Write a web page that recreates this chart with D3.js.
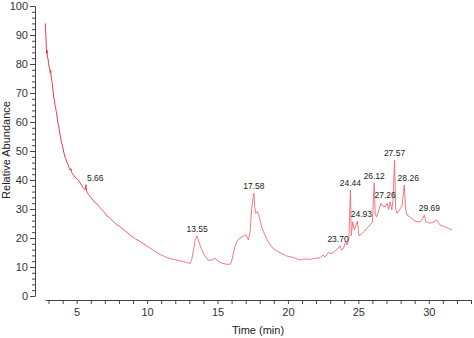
<!DOCTYPE html>
<html>
<head>
<meta charset="utf-8">
<script src="https://cdn.jsdelivr.net/npm/d3@7/dist/d3.min.js"></script>
<style>
  html, body { margin: 0; padding: 0; background: #fff; }
  svg { display: block; }
  text { font-family: "Liberation Sans", Arial, sans-serif; }
</style>
</head>
<body>
<svg id="chart" width="474" height="338"></svg>
<script>
// Chromatogram trace: retention time (min) and relative abundance (%)
const traceTime = [
  2.77, 2.79, 2.81, 2.83, 2.85, 2.87, 2.89, 2.92, 2.96, 3.00, 3.04, 3.08, 3.12, 3.15, 3.19, 3.23,
  3.26, 3.30, 3.34, 3.37, 3.41, 3.45, 3.50, 3.55, 3.60, 3.64, 3.68, 3.72, 3.77, 3.82, 3.87, 3.92,
  3.97, 4.03, 4.09, 4.15, 4.22, 4.30, 4.38, 4.46, 4.53, 4.60, 4.65, 4.72, 4.80, 4.88, 4.96, 5.04,
  5.12, 5.20, 5.28, 5.36, 5.44, 5.52, 5.59, 5.66, 5.70, 5.76, 5.85, 5.95, 6.05, 6.15, 6.25, 6.35,
  6.45, 6.55, 6.65, 6.78, 6.90, 7.02, 7.15, 7.25, 7.40, 7.55, 7.70, 7.85, 8.00, 8.08, 8.30, 8.50,
  8.79, 9.10, 9.50, 9.90, 10.20, 10.44, 10.70, 10.92, 11.30, 11.63, 12.00, 12.46, 12.80, 13.05, 13.17, 13.30,
  13.42, 13.55, 13.68, 13.88, 14.10, 14.35, 14.60, 14.83, 15.05, 15.30, 15.60, 15.89, 16.00, 16.13, 16.25, 16.37,
  16.55, 16.73, 16.90, 17.03, 17.19, 17.31, 17.42, 17.58, 17.65, 17.72, 17.83, 17.95, 18.10, 18.26, 18.50, 18.74,
  19.00, 19.25, 19.45, 19.90, 20.39, 20.87, 21.20, 21.58, 21.90, 22.29, 22.50, 22.65, 22.88, 23.00, 23.20, 23.40,
  23.55, 23.70, 23.80, 23.94, 24.10, 24.20, 24.33, 24.44, 24.50, 24.60, 24.72, 24.93, 25.05, 25.20, 25.40, 25.60,
  25.84, 26.00, 26.12, 26.20, 26.30, 26.50, 26.60, 26.75, 26.91, 27.05, 27.15, 27.26, 27.38, 27.46, 27.57, 27.65,
  27.75, 27.92, 28.10, 28.26, 28.35, 28.45, 28.68, 28.90, 29.16, 29.40, 29.55, 29.69, 29.80, 30.05, 30.30, 30.55,
  30.80, 31.10, 31.40, 31.65
];
const traceAbundance = [
  94.0, 91.5, 89.8, 87.5, 85.0, 83.6, 84.8, 82.4, 82.0, 80.2, 79.0, 78.6, 77.0, 77.8, 75.4, 74.3,
  73.6, 71.5, 70.2, 68.4, 67.8, 66.1, 65.0, 63.6, 62.4, 60.2, 59.4, 58.6, 57.1, 55.5, 54.2, 53.0,
  52.2, 50.8, 49.5, 48.3, 47.4, 46.2, 45.5, 44.2, 43.4, 43.9, 42.6, 42.0, 41.6, 41.0, 40.7, 40.2,
  39.8, 39.5, 38.6, 38.2, 37.4, 37.0, 36.6, 38.4, 36.2, 35.6, 35.0, 34.3, 33.8, 33.0, 32.6, 32.0,
  31.6, 31.2, 30.5, 29.8, 29.2, 28.5, 27.6, 27.3, 26.6, 26.0, 25.2, 24.6, 24.2, 23.9, 23.0, 22.2,
  21.0, 19.9, 18.8, 17.5, 16.6, 15.8, 15.0, 14.3, 13.5, 12.9, 12.5, 12.0, 11.6, 11.2, 12.6, 16.0,
  19.5, 20.7, 18.6, 15.9, 13.8, 12.3, 12.4, 13.0, 12.0, 11.3, 11.0, 10.9, 12.0, 14.7, 17.2, 18.7,
  19.8, 20.4, 20.9, 21.0, 19.3, 22.0, 30.0, 35.4, 30.5, 28.5, 29.1, 27.6, 24.5, 22.2, 19.6, 17.6,
  16.2, 15.4, 14.9, 13.8, 13.3, 12.4, 12.8, 12.6, 13.0, 13.2, 14.1, 13.4, 15.1, 14.6, 14.9, 15.8,
  16.3, 17.4, 15.9, 16.4, 18.7, 17.6, 20.0, 36.5, 20.8, 25.6, 22.8, 25.8, 20.8, 21.2, 22.2, 23.3,
  24.5, 25.5, 39.0, 28.2, 27.3, 30.2, 32.0, 31.0, 30.8, 32.0, 29.8, 32.5, 29.7, 33.0, 46.9, 30.2,
  28.5, 29.7, 31.0, 38.3, 30.2, 27.9, 27.3, 26.2, 25.6, 25.6, 26.6, 27.9, 25.6, 25.1, 25.4, 26.2,
  24.5, 23.9, 23.3, 22.8
];

// Retention times printed above the labelled peaks
const peakLabels = ["5.66", "13.55", "17.58", "23.70", "24.44", "24.93", "26.12", "27.26", "27.57", "28.26", "29.69"];

// Axis ticks and titles
const xTickValues = d3.range(3, 34);
const yTickValues = d3.range(0, 101, 2);
const xTitle = "Time (min)";
const yTitle = "Relative Abundance";

// Label placement tweaks (text offsets in px), kept apart from the data
const labelLayout = {
  "5.66": { anchor: "start", dx: 1 },
  "23.70": { dx: -2 },
  "24.93": { dx: 4 },
  "27.26": { dx: -5 },
  "28.26": { dx: 4 },
  "29.69": { dx: 5 }
};

const svg = d3.select("#chart");

const x = d3.scaleLinear().domain([2.75, 33]).range([45, 471]);
const y = d3.scaleLinear().domain([0, 100]).range([296, 6]);

const trace = traceTime.map((t, i) => ({ t, v: traceAbundance[i] }));

// Stroke fades from a dense red on the solvent front to a lighter pink later on
const grad = svg.append("defs").append("linearGradient")
  .attr("id", "traceStroke")
  .attr("gradientUnits", "userSpaceOnUse")
  .attr("x1", x(4)).attr("y1", 0)
  .attr("x2", x(11)).attr("y2", 0);
grad.append("stop").attr("offset", 0).attr("stop-color", "#e4222e");
grad.append("stop").attr("offset", 1).attr("stop-color", "#f06a72");

// Trace
const line = d3.line().x(d => x(d.t)).y(d => y(d.v));
svg.append("path")
  .datum(trace)
  .attr("fill", "none")
  .attr("stroke", "url(#traceStroke)")
  .attr("stroke-width", 0.9)
  .attr("stroke-linejoin", "round")
  .attr("d", line);

// Y axis
const yAxis = svg.append("g")
  .attr("transform", "translate(35,0)")
  .call(d3.axisLeft(y)
    .tickValues(yTickValues)
    .tickSize(5)
    .tickSizeOuter(0)
    .tickPadding(2)
    .tickFormat(d => d % 10 === 0 ? d : ""));
yAxis.selectAll(".tick line")
  .attr("x2", d => d % 10 === 0 ? -5 : -3);

// X axis
const xAxis = svg.append("g")
  .attr("transform", "translate(0,300)")
  .call(d3.axisBottom(x)
    .tickValues(xTickValues)
    .tickSize(4)
    .tickSizeOuter(0)
    .tickPadding(4)
    .tickFormat(d => d % 5 === 0 ? d : ""));

[yAxis, xAxis].forEach(g => {
  g.select(".domain").attr("stroke", "#444").attr("stroke-width", 1);
  g.selectAll(".tick line").attr("stroke", "#444");
  g.selectAll(".tick text")
    .attr("fill", "#333")
    .style("font-size", "11px")
    .style("font-family", "'Liberation Sans', Arial, sans-serif");
});

// Axis titles
svg.append("text")
  .attr("x", 258)
  .attr("y", 334)
  .attr("text-anchor", "middle")
  .attr("fill", "#222")
  .style("font-size", "11px")
  .text(xTitle);

svg.append("text")
  .attr("transform", "translate(10,150) rotate(-90)")
  .attr("text-anchor", "middle")
  .attr("fill", "#222")
  .style("font-size", "11px")
  .text(yTitle);

// Peak labels, placed above the trace point at each labelled time
peakLabels.forEach(lbl => {
  const t = +lbl;
  const p = trace.find(d => Math.abs(d.t - t) < 1e-6);
  const lay = labelLayout[lbl] || {};
  svg.append("text")
    .attr("x", x(p.t) + (lay.dx || 0))
    .attr("y", y(p.v) - 4)
    .attr("text-anchor", lay.anchor || "middle")
    .attr("fill", "#222")
    .style("font-size", "8.5px")
    .text(lbl);
});
</script>
</body>
</html>
